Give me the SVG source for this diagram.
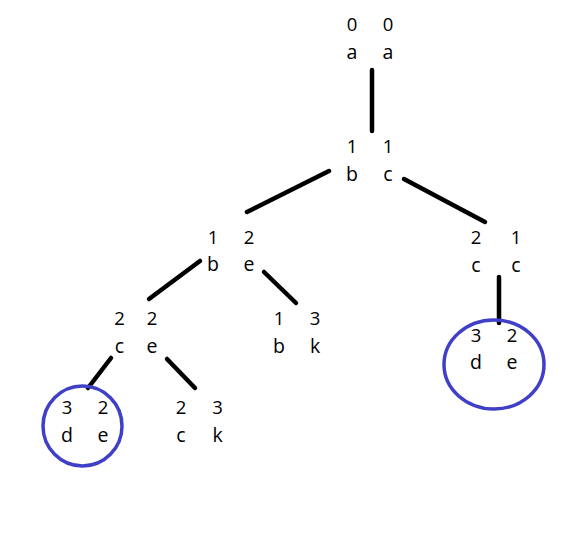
<svg xmlns="http://www.w3.org/2000/svg" width="577" height="556" viewBox="0 0 577 556">
<style>
text{font-family:"Open Sans","Liberation Sans",sans-serif;font-size:18.5px;fill:#000;text-anchor:middle}
text.l{font-size:19.5px}
.edge{stroke:#000;stroke-width:4.5;stroke-linecap:round;fill:none}
.mark{stroke:#3f3fc8;stroke-width:3.5;fill:none}
</style>
<rect width="577" height="556" fill="#fff"/>
<g id="connectors">
<line class="edge" x1="372" y1="70" x2="372" y2="131"/>
<line class="edge" x1="329" y1="171" x2="247" y2="212"/>
<line class="edge" x1="404" y1="179" x2="485" y2="222"/>
<line class="edge" x1="200" y1="261" x2="149" y2="299"/>
<line class="edge" x1="264" y1="272" x2="296" y2="303"/>
<line class="edge" x1="499" y1="277" x2="499" y2="323"/>
<line class="edge" x1="111" y1="358" x2="88" y2="388"/>
<line class="edge" x1="167" y1="359" x2="195" y2="388"/>
</g>
<g id="n-root"><text x="352" y="30.5">0</text><text x="388" y="30.5">0</text><text class="l" x="352" y="58.5">a</text><text class="l" x="388" y="58.5">a</text></g>
<g id="n-1b1c"><text x="352" y="153">1</text><text x="388" y="153">1</text><text class="l" x="352" y="181">b</text><text class="l" x="388" y="181">c</text></g>
<g id="n-1b2e"><text x="213" y="243.5">1</text><text x="249" y="243.5">2</text><text class="l" x="213" y="271">b</text><text class="l" x="249" y="271">e</text></g>
<g id="n-2c1c"><text x="476" y="244">2</text><text x="516" y="244">1</text><text class="l" x="476" y="272">c</text><text class="l" x="516" y="272">c</text></g>
<g id="n-2c2e"><text x="119.5" y="325">2</text><text x="152" y="325">2</text><text class="l" x="119.5" y="353">c</text><text class="l" x="152" y="353">e</text></g>
<g id="n-1b3k"><text x="279" y="324.5">1</text><text x="315" y="324.5">3</text><text class="l" x="279" y="353">b</text><text class="l" x="315" y="353">k</text></g>
<g id="n-3d2e-right"><ellipse class="mark" cx="494" cy="364.5" rx="50" ry="44.5"/><text x="476" y="341.5">3</text><text x="512" y="341.5">2</text><text class="l" x="476" y="369">d</text><text class="l" x="512" y="369">e</text></g>
<g id="n-3d2e-left"><ellipse class="mark" cx="82.5" cy="426" rx="39.5" ry="40"/><text x="67" y="413.5">3</text><text x="103" y="413.5">2</text><text class="l" x="67" y="441.5">d</text><text class="l" x="103" y="441.5">e</text></g>
<g id="n-2c3k"><text x="181" y="413.5">2</text><text x="217.5" y="413.5">3</text><text class="l" x="181" y="441.5">c</text><text class="l" x="217.5" y="441.5">k</text></g>
</svg>
